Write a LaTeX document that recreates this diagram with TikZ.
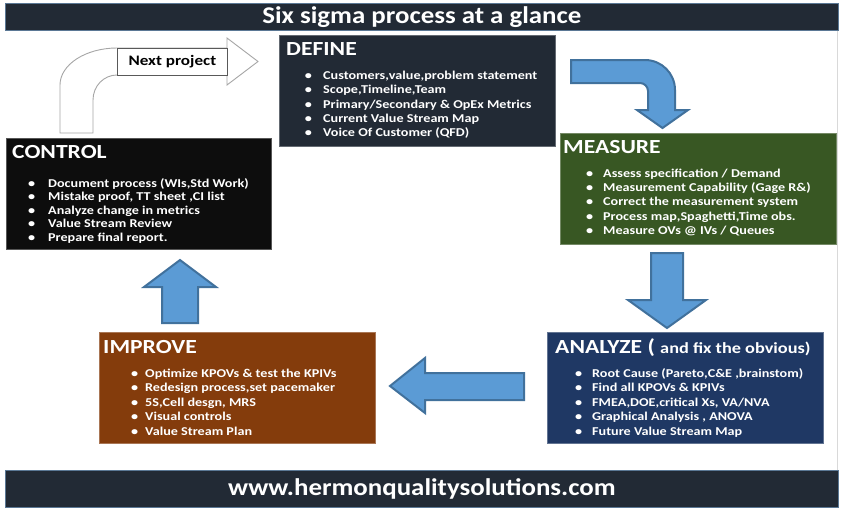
\documentclass[tikz,border=0pt]{standalone}
\usepackage{fontspec}
\setmainfont{Carlito}
\newfontfamily\wfont[FakeStretch=1.18]{Carlito}
\newfontfamily\tfont[FakeStretch=1.12]{Carlito}
\definecolor{barc}{HTML}{222A35}
\definecolor{barline}{HTML}{5B7895}
\definecolor{definec}{HTML}{222A35}
\definecolor{measurec}{HTML}{385723}
\definecolor{controlc}{HTML}{0D0D0D}
\definecolor{improvec}{HTML}{843C0C}
\definecolor{analyzec}{HTML}{1F3864}
\definecolor{arrowf}{HTML}{5B9BD5}
\definecolor{arrowd}{HTML}{41719C}
\definecolor{hollowd}{HTML}{A6A6A6}
\newcommand\blist[6]{%
  \foreach \t [count=\i from 0] in {#6}{%
    \node[itm] (#1\i) at (#2-2, #4+\i*#5) {\makebox[\dimexpr #3pt-#2pt+2pt\relax][l]{\textbullet}\t};
  }}
\tikzset{
  panel/.style={fill=#1, draw=#1!70!white, line width=0.8pt, anchor=north west,
    inner sep=0pt, outer sep=0pt, minimum width=276pt, minimum height=111pt},
  ttl/.style={text=white, font=\wfont\bfseries\fontsize{20}{20}\selectfont, anchor=base west, inner sep=0pt},
  itm/.style={text=white, font=\wfont\bfseries\fontsize{12}{12}\selectfont, anchor=base west, inner sep=0pt},
  bar/.style={fill=barc, draw=barline, line width=0.8pt, anchor=north west, inner sep=0pt,
    minimum width=833pt, text=white, font=\tfont\bfseries\fontsize{24}{24}\selectfont},
  blockarrow/.style={fill=arrowf, draw=arrowd, line width=2pt, line join=miter},
  hollow/.style={fill=white, draw=hollowd, line width=0.9pt}
}
\begin{document}
\begin{tikzpicture}[x=1pt,y=-1pt]
\useasboundingbox (0,0) rectangle (842,512);
\fill[white] (0,0) rectangle (842,512);
\draw[black!15, line width=0.8pt] (837,30) -- (837,470);

% title and footer bars
\node[bar, minimum height=27pt] (title) at (5,3) {Six sigma process at a glance};
\node[bar, minimum height=37pt] (footer) at (5,470) {www.hermonqualitysolutions.com};

% next project hollow bent arrow
\draw[hollow] (60,133) -- (60,85) .. controls (60,64.6) and (85.6,48) .. (117,48)
  -- (227,48) -- (227,38) -- (258,61.5) -- (227,85) -- (227,75) -- (117,75)
  .. controls (103.8,75) and (93,86) .. (93,100) -- (93,133) -- cycle;
\node[draw=black!65, line width=0.8pt, fill=white, anchor=north west, inner sep=0pt,
  minimum width=110pt, minimum height=27pt,
  font=\wfont\bfseries\fontsize{14.5}{14.5}\selectfont] (next) at (117,48) {Next project};

% panels
\node[panel=definec] (define) at (279,35) {};
\node[panel=measurec] (measure) at (560,133) {};
\node[panel=controlc, minimum width=265pt] (control) at (6,138) {};
\node[panel=improvec] (improve) at (99,332) {};
\node[panel=analyzec] (analyze) at (547,332) {};

% titles
\node[ttl] (defineT) at (286,55) {DEFINE};
\node[ttl] (measureT) at (563,153) {MEASURE};
\node[ttl] (controlT) at (12,158) {CONTROL};
\node[ttl] (improveT) at (103,353) {IMPROVE};
\node[ttl] (analyzeT) at (555,353) {ANALYZE ( {\fontsize{15.5}{15.5}\selectfont and fix the obvious)}};

% bullet lists
\blist{defineL}{306.7}{323}{79.3}{14.4}{{Customers,value,problem statement},{Scope,Timeline,Team},{Primary/Secondary \& OpEx Metrics},{Current Value Stream Map},{Voice Of Customer (QFD)}}
\blist{measureL}{588}{603}{177}{14.4}{{Assess specification / Demand},{Measurement Capability (Gage R\&)},{Correct the measurement system},{Process map,Spaghetti,Time obs.},{Measure OVs @ IVs / Queues}}
\blist{controlL}{30}{48}{187}{13.5}{{Document process (WIs,Std Work)},{Mistake proof, TT sheet ,CI list},{Analyze change in metrics},{Value Stream Review},{Prepare final report.}}
\blist{improveL}{133}{145}{377}{14.6}{{Optimize KPOVs \& test the KPIVs},{Redesign process,set pacemaker},{5S,Cell desgn, MRS},{Visual controls},{Value Stream Plan}}
\blist{analyzeL}{577}{592}{377}{14.6}{{Root Cause (Pareto,C\&E ,brainstom)},{Find all KPOVs \& KPIVs},{FMEA,DOE,critical Xs, VA/NVA},{Graphical Analysis , ANOVA},{Future Value Stream Map}}

% blue block arrows
\draw[blockarrow] (571,60) -- (645,60) .. controls (661.6,60) and (675,73.4) .. (675,90)
  -- (675,110) -- (688,110) -- (662.5,128) -- (637,110) -- (648,110) -- (648,91)
  .. controls (648,86.6) and (644.4,83) .. (640,83) -- (571,83) -- cycle;
\draw[blockarrow] (651,253) -- (683,253) -- (683,300) -- (706,300) -- (667,328)
  -- (628,300) -- (651,300) -- cycle;
\draw[blockarrow] (524,373) -- (425,373) -- (425,358) -- (390,386) -- (425,413)
  -- (425,400) -- (524,400) -- cycle;
\draw[blockarrow] (162,323) -- (162,287) -- (144,287) -- (180,260) -- (216,287)
  -- (198,287) -- (198,323) -- cycle;
\end{tikzpicture}
\end{document}
